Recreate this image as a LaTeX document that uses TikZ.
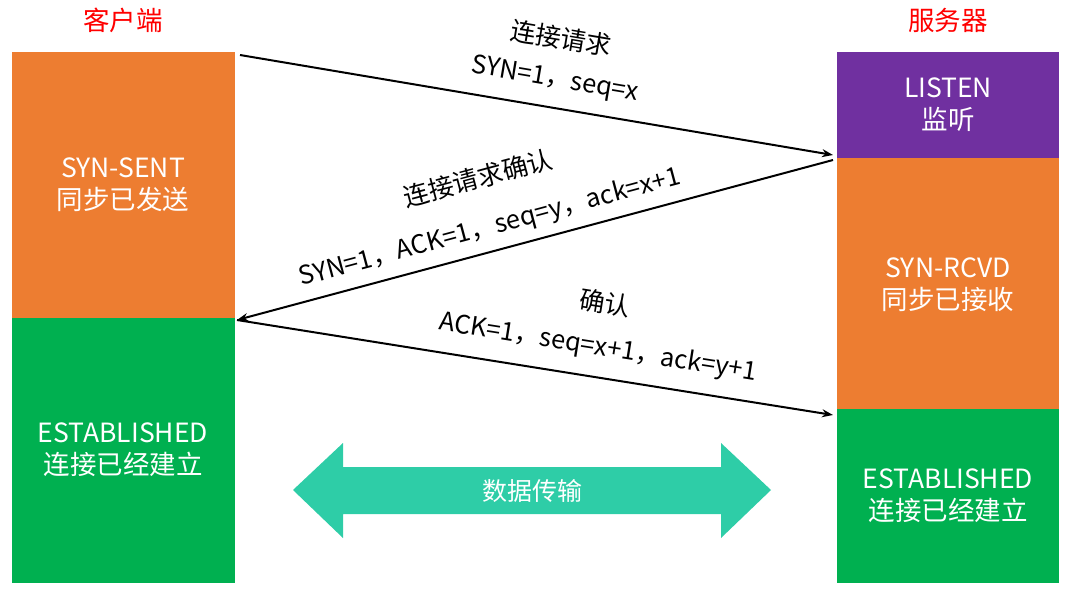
\documentclass[tikz,border=0pt]{standalone}
\usepackage{fontspec}
\usetikzlibrary{arrows.meta}
\setmainfont{Noto Sans CJK SC}
\begin{document}
\begin{tikzpicture}[x=1pt,y=-1pt,
  lbl/.style={font=\fontsize{26.5}{32}\selectfont,text=white,align=center},
  msg/.style={font=\fontsize{25.5}{30}\selectfont},
  arr/.style={-{Stealth[length=11pt,width=8pt]},line width=2pt}]
\useasboundingbox (0,0) rectangle (1066,589);
\definecolor{org}{HTML}{ED7D31}\definecolor{grn}{HTML}{00B050}
\definecolor{pur}{HTML}{7030A0}\definecolor{teal}{HTML}{2ECDA7}
\fill[org] (12,52) rectangle (235,318);
\fill[grn] (12,318) rectangle (235,583);
\fill[pur] (837,52) rectangle (1059,158);
\fill[org] (837,158) rectangle (1059,409);
\fill[grn] (837,409) rectangle (1059,583);
\node[lbl] (l1) at (123,185) {SYN-SENT\\同步已发送};
\node[lbl] (l2) at (123,450) {ESTABLISHED\\连接已经建立};
\node[lbl] (r1) at (948,105) {LISTEN\\监听};
\node[lbl] (r2) at (948,285) {SYN-RCVD\\同步已接收};
\node[lbl] (r3) at (948,496) {ESTABLISHED\\连接已经建立};
\node[font=\fontsize{26.5}{32}\selectfont,text=red] (c) at (123,20) {客户端};
\node[font=\fontsize{26.5}{32}\selectfont,text=red] (s) at (948,20) {服务器};
\coordinate (a1) at (240,55); \coordinate (b1) at (833,155);
\coordinate (a2) at (833,160); \coordinate (b2) at (237,320);
\coordinate (b3) at (833,415);
\draw[arr] (a1) -- (b1);
\draw[arr] (a2) -- (b2);
\draw[arr] (b2) -- (b3);
\node[msg,rotate=-9.6] (t1) at (561,38) {连接请求};
\node[msg,rotate=-9.6] (t2) at (555,80) {SYN=1，seq=x};
\node[msg,rotate=15] (t3) at (478,178) {连接请求确认};
\node[msg,rotate=15] (t4) at (490,228) {SYN=1，ACK=1，seq=y，ack=x+1};
\node[msg,rotate=-9] (t5) at (605,303) {确认};
\node[msg,rotate=-9] (t6) at (598,348) {ACK=1，seq=x+1，ack=y+1};
\fill[teal] (293,490) -- (343,443) -- (343,467) -- (721,467) -- (721,443) -- (771,490)
  -- (721,538) -- (721,514) -- (343,514) -- (343,538) -- cycle;
\node[font=\fontsize{25}{30}\selectfont,text=white] (d) at (532,491) {数据传输};
\end{tikzpicture}
\end{document}
